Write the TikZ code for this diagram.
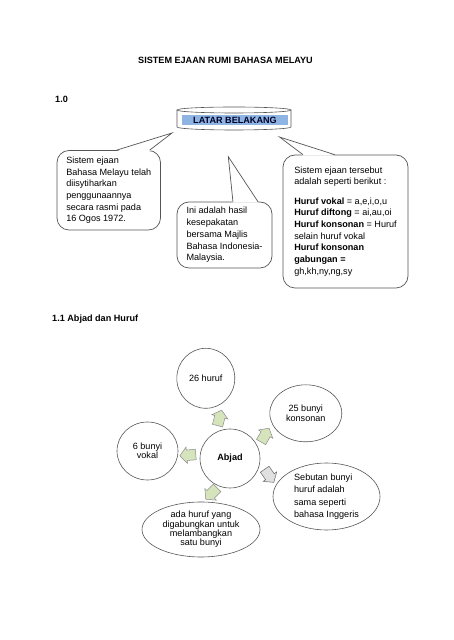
\documentclass[tikz,border=0pt]{standalone}
\usepackage{fontspec}
\setmainfont{Liberation Sans}
\usetikzlibrary{positioning,calc,shapes.geometric,shapes.arrows}
\definecolor{latarblue}{RGB}{142,180,227}
\definecolor{arrowgreen}{RGB}{214,228,188}
\definecolor{linegray}{RGB}{85,85,85}

\begin{document}
\begin{tikzpicture}[
  x=1pt, y=1pt,
  heading/.style={font=\fontsize{9.1}{11}\selectfont\bfseries, inner sep=0pt},
  latar/.style={fill=latarblue, inner sep=0pt, minimum width=106pt, minimum height=10pt, font=\fontsize{9.1}{11}\selectfont\bfseries, text=black!85!blue},
  cyl/.style={draw=linegray, line width=0.6pt},
  callout/.style={draw=linegray, line width=0.7pt, rounded corners=12pt, fill=white, align=left, inner sep=0pt, font=\fontsize{9.1}{11.7}\selectfont},
  tail/.style={draw=linegray, line width=0.7pt},
  bubble/.style={draw=linegray, line width=0.6pt, ellipse, inner sep=0pt, align=center, font=\fontsize{9.1}{9.3}\selectfont},
  blockarrow/.style={single arrow, draw=black!45, fill=arrowgreen, line width=0.5pt, inner xsep=0pt, inner ysep=5pt, minimum height=16pt, single arrow head extend=3pt, single arrow tip angle=100}
]
\useasboundingbox (0,0) rectangle (453,640);

% ================= HEADINGS =================
\node[heading, anchor=base] (title) at (225.5,576.7) {SISTEM EJAAN RUMI BAHASA MELAYU};
\node[heading, anchor=base west] (sec10) at (55,537.7) {1.0};
\node[heading, anchor=base west] (sec11) at (52,318.7) {1.1 Abjad dan Huruf};

% ================= 1.0 LATAR BELAKANG =================
\draw[cyl, fill=white] (177,530) -- (177,513) arc[start angle=180, end angle=360, x radius=57, y radius=3] -- (291,530);
\draw[cyl, fill=white] (234,530) ellipse[x radius=57, y radius=3];
\node[latar] (latar) at (235,520) {LATAR BELAKANG};

% left callout
\node[callout, minimum width=103.5pt, minimum height=79.5pt] (calL) at (108.75,449.75)
  {Sistem ejaan\\Bahasa Melayu telah\\diisytiharkan\\penggunaannya\\secara rasmi pada\\16 Ogos 1972.};
\coordinate (tipL) at (172,507);
\fill[white] ($(calL.north west)+(60,-1)$) -- (tipL) -- ($(calL.north west)+(93,-1)$) -- cycle;
\draw[tail] ($(calL.north west)+(60,0)$) -- (tipL) -- ($(calL.north west)+(93,0)$);

% middle callout
\node[callout, minimum width=95pt, minimum height=66pt] (calM) at (224.5,405)
  {Ini adalah hasil\\kesepakatan\\bersama Majlis\\Bahasa Indonesia-\\Malaysia.};
\coordinate (tipM) at (228.3,483.3);
\fill[white] ($(calM.north west)+(56.3,-1)$) -- (tipM) -- ($(calM.north west)+(81.3,-1)$) -- cycle;
\draw[tail] ($(calM.north west)+(56.3,0)$) -- (tipM) -- ($(calM.north west)+(81.3,0)$);

% right callout
\node[callout, minimum width=125pt, minimum height=133pt] (calR) at (345.5,418.5)
  {Sistem ejaan tersebut\\adalah seperti berikut :\\[7.5pt]
   \textbf{Huruf vokal} = a,e,i,o,u\\
   \textbf{Huruf diftong} = ai,au,oi\\
   \textbf{Huruf konsonan} = Huruf\\
   selain huruf vokal\\
   \textbf{Huruf konsonan}\\
   \textbf{gabungan =}\\
   gh,kh,ny,ng,sy};
\coordinate (tipR) at (279.5,503);
\fill[white] ($(calR.north west)+(20.3,-1)$) -- (tipR) -- ($(calR.north west)+(52,-1)$) -- cycle;
\draw[tail] ($(calR.north west)+(20.3,0)$) -- (tipR) -- ($(calR.north west)+(52,0)$);

% ================= 1.1 ABJAD =================
\node[bubble, minimum width=60pt, minimum height=59pt] (abjad) at (230,181.5) {\textbf{Abjad}};
\node[bubble, minimum width=58pt, minimum height=60pt] (huruf) at (205.8,261.7) {26 huruf};
\node[bubble, minimum width=72pt, minimum height=57pt] (konsonan) at (305.8,226.7) {25 bunyi\\konsonan};
\node[bubble, minimum width=61pt, minimum height=58pt] (vokal) at (147.5,189) {6 bunyi\\vokal};
\node[bubble, minimum width=107pt, minimum height=67pt, align=left, font=\fontsize{9.1}{12.3}\selectfont] (sebutan) at (326.5,143.5)
  {Sebutan bunyi\\huruf adalah\\sama seperti\\bahasa Inggeris};
\node[bubble, minimum width=118pt, minimum height=55pt] (gabungan) at (201,110.5)
  {ada huruf yang\\digabungkan untuk\\melambangkan\\satu bunyi};

% block arrows out of Abjad
\node[blockarrow, rotate=75] (toHuruf) at (219,220) {};
\node[blockarrow, rotate=60] (toKonsonan) at (264,203) {};
\node[blockarrow, rotate=185] (toVokal) at (190,185) {};
\node[blockarrow, fill=black!12, draw=black!60, rotate=-55] (toSebutan) at (268,166) {};
\node[blockarrow, rotate=225] (toGabungan) at (213,148) {};

\end{tikzpicture}
\end{document}
